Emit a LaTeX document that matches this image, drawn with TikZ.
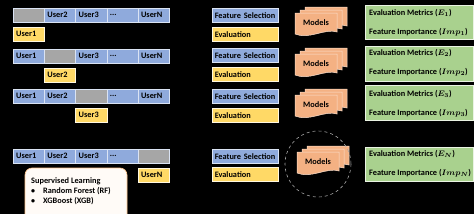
\documentclass[tikz,border=0pt]{standalone}
\usepackage{fontspec}
\setmainfont{Carlito}
\definecolor{cblue}{HTML}{8FAADC}
\definecolor{cgray}{HTML}{A6A6A6}
\definecolor{cyellow}{HTML}{FFD966}
\definecolor{corange}{HTML}{F4B183}
\definecolor{cgreen}{HTML}{A9D18E}
\definecolor{cedge}{HTML}{DAE3F3}
\tikzset{
  txt/.style={font=\fontsize{8.3}{10}\selectfont\bfseries\mathversion{bold}, text=black, inner sep=0pt},
  bluecell/.style={txt, fill=cblue, draw=cedge, line width=0.5pt, minimum width=31.2pt, minimum height=14pt, anchor=north west, text width=25.2pt, inner xsep=3pt, align=left},
  graycell/.style={bluecell, fill=cgray},
  yelcell/.style={bluecell, fill=cyellow, draw=white!80!cyellow},
  fsbox/.style={txt, fill=cblue, draw=cedge, line width=0.5pt, minimum width=66pt, minimum height=14pt, anchor=north west, text width=61pt, inner xsep=2.5pt, align=left},
  evbox/.style={fsbox, fill=cyellow, draw=white!80!cyellow},
  greenbox/.style={fill=cgreen, draw=white!75!cgreen, line width=0.5pt},
  gtxt/.style={txt, anchor=west},
  doc/.style={fill=corange, draw=white!60!corange, line width=0.5pt},
  mlabel/.style={txt},
}
\newcommand{\docpath}[2]{%
  \draw[doc, shift={(#1,#2)}] (0,0) -- (42,0) -- (42,19) .. controls (30,15) and (14,27) .. (0,21) -- cycle;}
\newcommand{\modelstack}[3]{%
  \docpath{#1+10}{#2-6}\docpath{#1+5}{#2-3}\docpath{#1}{#2}%
  \node[mlabel] (#3) at (#1+21,#2+10) {Models};}
\begin{document}
\begin{tikzpicture}[x=1pt,y=-1pt]
\fill[black] (0,0) rectangle (474,214);
\path[use as bounding box] (0,0) rectangle (474,214);

% row 1
\node[graycell] (r1c1) at (13,8) {};
\node[bluecell] (r1c2) at (44.2,8) {User2};
\node[bluecell] (r1c3) at (75.4,8) {User3};
\node[bluecell] (r1c4) at (106.6,8) {...};
\node[bluecell] (r1c5) at (137.8,8) {UserN};
\node[yelcell] (u1) at (13,27) {User1};
% row 2
\node[bluecell] (r2c1) at (13,49) {User1};
\node[graycell] (r2c2) at (44.2,49) {};
\node[bluecell] (r2c3) at (75.4,49) {User3};
\node[bluecell] (r2c4) at (106.6,49) {...};
\node[bluecell] (r2c5) at (137.8,49) {UserN};
\node[yelcell] (u2) at (44.2,68) {User2};
% row 3
\node[bluecell] (r3c1) at (13,89) {User1};
\node[bluecell] (r3c2) at (44.2,89) {User2};
\node[graycell] (r3c3) at (75.4,89) {};
\node[bluecell] (r3c4) at (106.6,89) {...};
\node[bluecell] (r3c5) at (137.8,89) {UserN};
\node[yelcell] (u3) at (75.4,108) {User3};
% row N
\node[bluecell] (r4c1) at (13,149) {User1};
\node[bluecell] (r4c2) at (44.2,149) {User2};
\node[bluecell] (r4c3) at (75.4,149) {User3};
\node[bluecell] (r4c4) at (106.6,149) {...};
\node[graycell] (r4c5) at (137.8,149) {};
\node[yelcell] (uN) at (137.8,168) {UserN};

% supervised learning box
\draw[fill=white!97!orange, draw=orange!45!white, line width=0.6pt, rounded corners=7pt] (25,168) rectangle (127,222);
\node[txt, anchor=west] (sl) at (31,181) {Supervised Learning};
\node[txt, anchor=west] (b1) at (31,191) {{\footnotesize\textbullet}\hspace{8pt}Random Forest (RF)};
\node[txt, anchor=west] (b2) at (31,201) {{\footnotesize\textbullet}\hspace{8pt}XGBoost (XGB)};

% feature selection / evaluation
\node[fsbox] (fs1) at (212,8) {Feature Selection};
\node[evbox] (ev1) at (212,27) {Evaluation};
\node[fsbox] (fs2) at (212,48) {Feature Selection};
\node[evbox] (ev2) at (212,67) {Evaluation};
\node[fsbox] (fs3) at (212,89) {Feature Selection};
\node[evbox] (ev3) at (212,108) {Evaluation};
\node[fsbox] (fs4) at (212,149) {Feature Selection};
\node[evbox] (ev4) at (212,167) {Evaluation};

% models
\modelstack{295}{13}{m1}
\modelstack{295}{54}{m2}
\modelstack{295}{95}{m3}
\modelstack{297}{152}{m4}
\draw[gray!70, dashed, line width=0.6pt] (318,164) circle (33);

% green result boxes
\draw[greenbox] (365,5) rectangle (473,39);
\node[gtxt] (e1) at (369,13) {Evaluation Metrics ($E_1$)};
\node[gtxt] (i1) at (369,32) {Feature Importance ($Imp_1$)};
\draw[greenbox] (365,46) rectangle (473,81);
\node[gtxt] (e2) at (369,53) {Evaluation Metrics ($E_2$)};
\node[gtxt] (i2) at (369,72) {Feature Importance ($Imp_2$)};
\draw[greenbox] (365,85) rectangle (473,120);
\node[gtxt] (e3) at (369,94) {Evaluation Metrics ($E_3$)};
\node[gtxt] (i3) at (369,113) {Feature Importance ($Imp_3$)};
\draw[greenbox] (365,147) rectangle (473,181);
\node[gtxt] (e4) at (369,154) {Evaluation Metrics ($E_N$)};
\node[gtxt] (i4) at (369,173) {Feature Importance ($Imp_N$)};
\end{tikzpicture}
\end{document}
